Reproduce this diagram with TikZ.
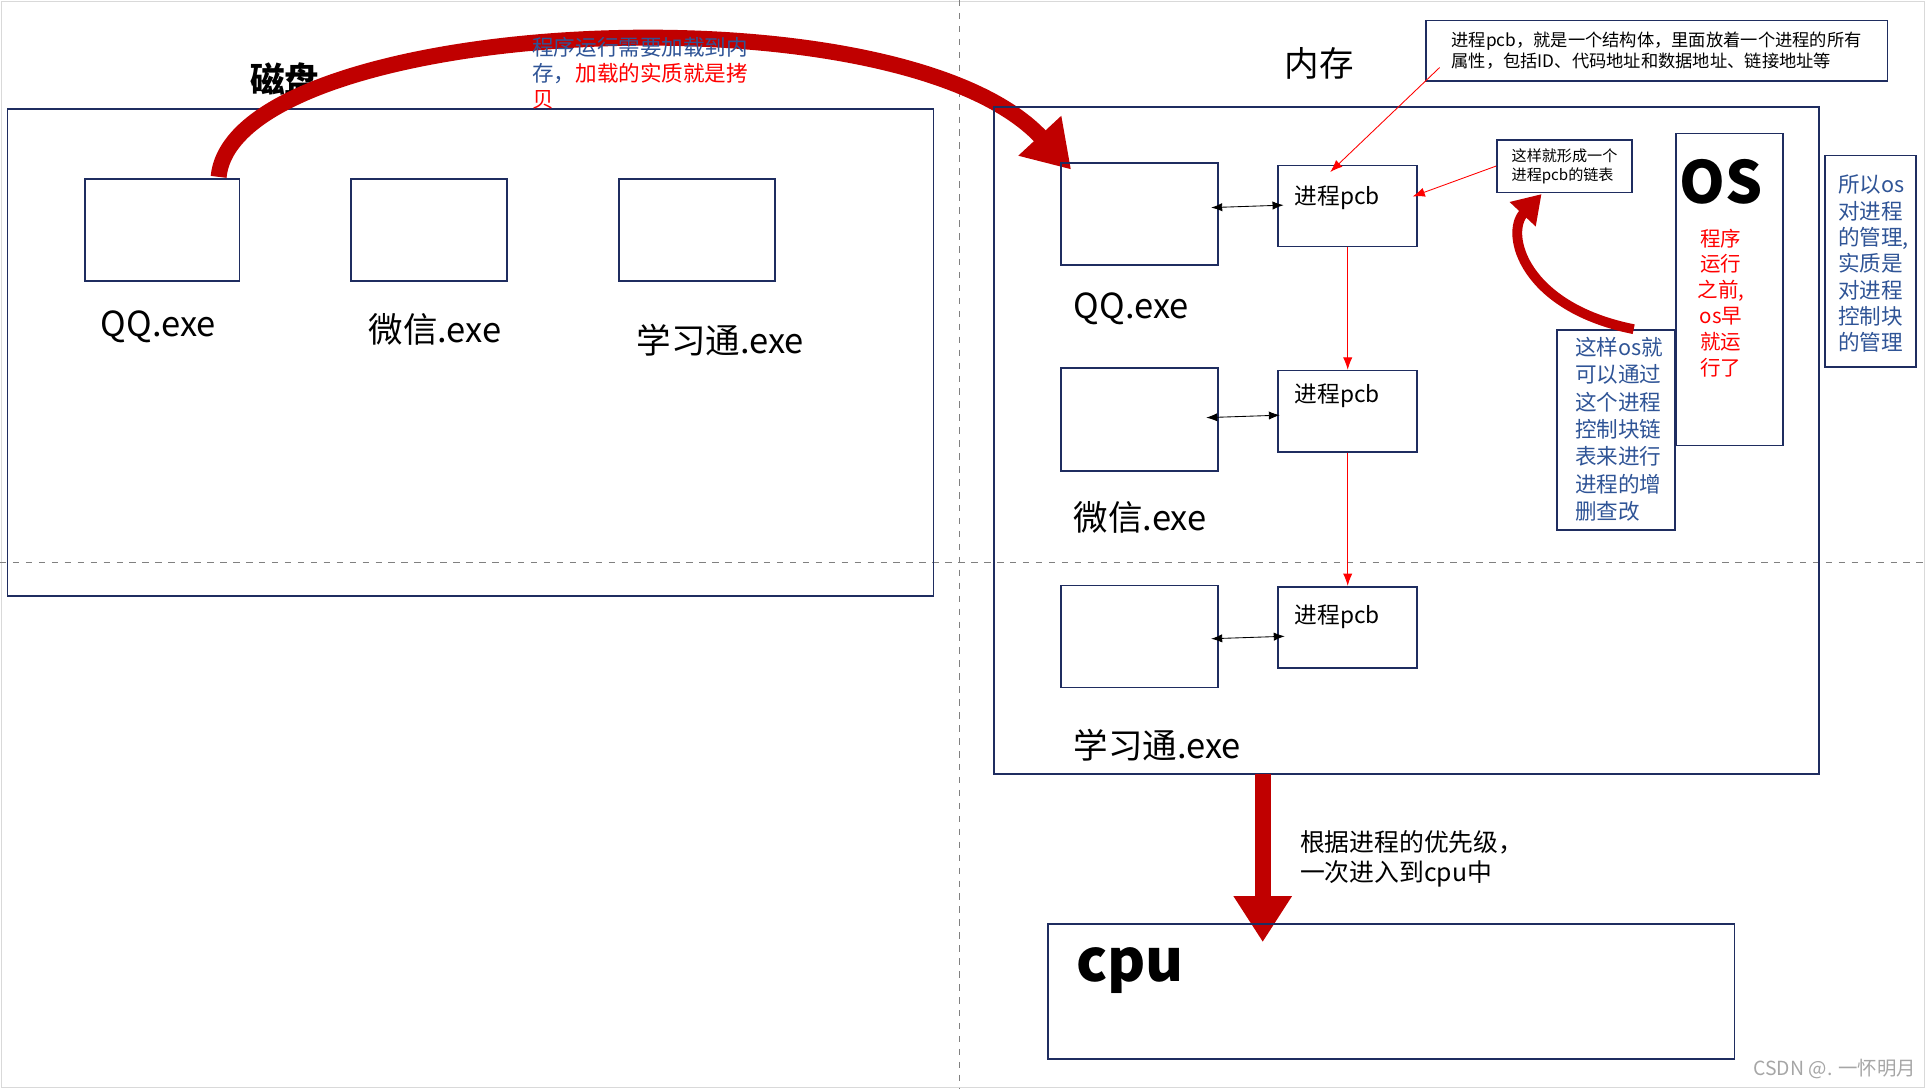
\documentclass[tikz,border=0pt]{standalone}
\usepackage{fontspec}
\setmainfont{Noto Sans CJK SC}
\usetikzlibrary{arrows.meta}
\definecolor{navy}{RGB}{31,45,96}
\definecolor{fatred}{RGB}{192,0,0}
\definecolor{txtblue}{RGB}{47,84,150}
\tikzset{
  box/.style={draw=navy, thick},
  lbl/.style={font=\fontsize{16}{18}\selectfont, anchor=west},
  pcb/.style={draw=navy, thick, minimum width=2.26cm, minimum height=1.32cm, anchor=north west},
  fat/.style={fatred, line width=0.26cm, -{Triangle[length=0.75cm,width=0.9cm]}},
  chain/.style={red, -{Latex[length=2mm]}},
  link/.style={{Latex[length=1.8mm]}-{Latex[length=1.8mm]}},
}
\begin{document}
\begin{tikzpicture}[x=0.02cm,y=-0.02cm]
  \useasboundingbox (0,0) rectangle (1568,886);
  \draw[gray!30] (1,1) rectangle (1567,885);
  \draw[gray, dashed] (781,0) -- (781,886);
  \draw[gray, dashed] (0,458) -- (1568,458);
  % disk side
  \draw[box] (6,89) rectangle (760,485);
  \node[font=\fontsize{16}{18}\selectfont\bfseries] (disk) at (232,64) {磁盘};
  \draw[box] (69,146) rectangle (195,229) coordinate (dq);
  \draw[box] (286,146) rectangle (413,229);
  \draw[box] (504,146) rectangle (631,229);
  \node[lbl] at (76,266) {QQ.exe};
  \node[lbl] at (294,268) {微信.exe};
  \node[lbl] at (512,277) {学习通.exe};
  \coordinate (from) at (178,144);
  \coordinate (to) at (872,138);
  \draw[fat] (from) .. controls (190,15) and (730,-15) .. (to);
  \node[anchor=north west, align=left, font=\fontsize{10}{12}\selectfont, inner sep=0pt] at (433,30)
    {\textcolor{txtblue}{程序运行需要加载到内}\\\textcolor{txtblue}{存，}\textcolor{red}{加载的实质就是拷}\\\textcolor{red}{贝}};
  % memory side
  \draw[box] (809,87) rectangle (1481,630);
  \node[font=\fontsize{16}{18}\selectfont] (mem) at (1074,52) {内存};
  \node[box, minimum width=2.56cm, minimum height=1.66cm, anchor=north west] (p1) at (863,132) {};
  \node[box, minimum width=2.56cm, minimum height=1.68cm, anchor=north west] (p2) at (863,299) {};
  \node[box, minimum width=2.56cm, minimum height=1.66cm, anchor=north west] (p3) at (863,476) {};
  \node[lbl] at (868,251) {QQ.exe};
  \node[lbl] at (868,421) {微信.exe};
  \node[lbl] at (868,607) {学习通.exe};
  \node[pcb] (b1) at (1040,134) {};
  \node[pcb] (b2) at (1040,301) {};
  \node[pcb] (b3) at (1040,477) {};
  \foreach \b/\y in {b1/161,b2/322,b3/502}
    \node[font=\fontsize{10.5}{12}\selectfont, anchor=west] at (1048,\y) {进程pcb};
  \draw[link] (986,169) -- (1045,167);
  \draw[link] (982,340) -- (1042,338);
  \draw[link] (986,520) -- (1046,518);
  \draw[chain] (b1.south) -- (b2.north);
  \draw[chain] (b2.south) -- (b3.north);
  % notes
  \node[box, anchor=north west, align=left, minimum width=7.52cm, minimum height=0.98cm,
        font=\fontsize{8}{10}\selectfont] (note) at (1160,16)
    {进程pcb，就是一个结构体，里面放着一个进程的所有\\属性，包括ID、代码地址和数据地址、链接地址等};
  \draw[chain] (1172,55) -- (1083,140);
  \node[box, anchor=north west, align=left, minimum width=2.2cm, minimum height=0.86cm,
        font=\fontsize{7}{9}\selectfont, inner sep=2pt] (list) at (1218,113)
    {这样就形成一个\\进程pcb的链表};
  \draw[chain] (list.west) -- (1150,160);
  \node[box, anchor=north west, minimum width=1.74cm, minimum height=5.08cm] (os) at (1364,108) {};
  \node[font=\fontsize{27}{30}\selectfont\bfseries] at (1401,148) {OS};
  \node[red, align=center, font=\fontsize{9.5}{12}\selectfont, anchor=north] at (1401,180)
    {程序\\运行\\之前,\\os早\\就运\\行了};
  \node[box, anchor=north west, minimum width=1.92cm, minimum height=3.26cm] (ctl) at (1267,268) {};
  \node[txtblue, align=left, font=\fontsize{10}{12.7}\selectfont, anchor=north west, inner sep=0pt] at (1282,274)
    {这样os就\\可以通过\\这个进程\\控制块链\\表来进行\\进程的增\\删查改};
  \node[box, anchor=north west, minimum width=1.48cm, minimum height=3.44cm] (mgr) at (1485,126) {};
  \node[txtblue, align=left, font=\fontsize{10}{12.2}\selectfont, anchor=north west, inner sep=0pt] at (1496,142)
    {所以os\\对进程\\的管理,\\实质是\\对进程\\控制块\\的管理};
  \draw[fatred, line width=0.16cm, -{Triangle[length=0.45cm,width=0.55cm]}]
    (1330,268) .. controls (1240,250) and (1225,190) .. (1255,158);
  % cpu
  \draw[fat] (1028,630) -- (1028,767);
  \node[anchor=north west, align=left, font=\fontsize{11.5}{14}\selectfont, inner sep=0pt] at (1058,676)
    {根据进程的优先级，\\一次进入到cpu中};
  \draw[box] (853,752) rectangle (1412,862);
  \node[font=\fontsize{27}{30}\selectfont\bfseries, anchor=west] (cpu) at (870,790) {cpu};
  \node[gray!70, font=\fontsize{9}{10}\selectfont, anchor=east] at (1566,870) {CSDN @. 一怀明月};
\end{tikzpicture}
\end{document}
